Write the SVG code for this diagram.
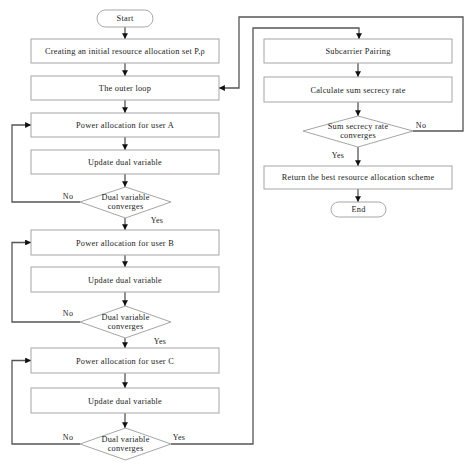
<svg xmlns="http://www.w3.org/2000/svg" width="474" height="474" viewBox="0 0 474 474">
<style>
.n{fill:#fff;stroke:#a6a6a6;stroke-width:1}
.t{font-family:"Liberation Serif","Times New Roman",serif;font-size:8.3px;letter-spacing:0.25px;fill:#222;text-anchor:middle}
.l{font-family:"Liberation Serif","Times New Roman",serif;font-size:8px;letter-spacing:0.25px;fill:#222;text-anchor:middle}
.c{fill:none;stroke:#555;stroke-width:1.3}
</style>
<defs>
<marker id="a" viewBox="0 0 10 10" refX="10" refY="5" markerWidth="4.5" markerHeight="4.5" orient="auto" markerUnits="strokeWidth">
<path d="M0,0 L10,5 L0,10 z" fill="#111"/>
</marker>
</defs>
<rect width="474" height="474" fill="#fff"/>
<g id="connectors">
<path class="c" marker-end="url(#a)" d="M125,27 V39"/>
<path class="c" marker-end="url(#a)" d="M125,63 V76"/>
<path class="c" marker-end="url(#a)" d="M125,100 V113"/>
<path class="c" marker-end="url(#a)" d="M125,137 V150"/>
<path class="c" marker-end="url(#a)" d="M125,174 V187"/>
<path class="c" marker-end="url(#a)" d="M125,218 V230"/>
<path class="c" marker-end="url(#a)" d="M125,255 V267"/>
<path class="c" marker-end="url(#a)" d="M125,292 V306"/>
<path class="c" marker-end="url(#a)" d="M125,338 V348"/>
<path class="c" marker-end="url(#a)" d="M125,373 V388"/>
<path class="c" marker-end="url(#a)" d="M125,413 V428"/>
<path class="c" marker-end="url(#a)" d="M80,202 H12 V125 H31"/>
<path class="c" marker-end="url(#a)" d="M80,322 H12 V242.5 H31"/>
<path class="c" marker-end="url(#a)" d="M80,444 H12 V360.5 H31"/>
<path class="c" marker-end="url(#a)" d="M171,444 H253 V28 H359 V39"/>
<path class="c" marker-end="url(#a)" d="M413,131 H463 V17 H239 V88 H219"/>
<path class="c" marker-end="url(#a)" d="M358,63 V77"/>
<path class="c" marker-end="url(#a)" d="M358,102 V116"/>
<path class="c" marker-end="url(#a)" d="M358,147 V166"/>
<path class="c" marker-end="url(#a)" d="M358,189 V202"/>
<text class="l" x="68" y="199">No</text>
<text class="l" x="157" y="223">Yes</text>
<text class="l" x="68" y="316">No</text>
<text class="l" x="160" y="344">Yes</text>
<text class="l" x="68" y="440">No</text>
<text class="l" x="179" y="440">Yes</text>
<text class="l" x="421" y="128">No</text>
<text class="l" x="338" y="158">Yes</text>
</g>
<g id="start"><rect class="n" x="97" y="10" width="56" height="17" rx="8.5"/><text class="t" x="125" y="21">Start</text></g>
<g id="init"><rect class="n" x="31" y="39" width="188" height="24"/><text class="t" x="125" y="54">Creating an initial resource allocation set P,ρ</text></g>
<g id="outer"><rect class="n" x="31" y="76" width="188" height="24"/><text class="t" x="125" y="91">The outer loop</text></g>
<g id="powA"><rect class="n" x="31" y="113" width="188" height="24"/><text class="t" x="125" y="128">Power allocation for user A</text></g>
<g id="updA"><rect class="n" x="31" y="150" width="188" height="24"/><text class="t" x="125" y="165">Update dual variable</text></g>
<g id="convA"><polygon class="n" points="80,202 125.5,187 171,202 125.5,218"/><text class="t" x="125.5" y="200">Dual variable</text><text class="t" x="125.5" y="209">converges</text></g>
<g id="powB"><rect class="n" x="31" y="230" width="188" height="25"/><text class="t" x="125" y="245.5">Power allocation for user B</text></g>
<g id="updB"><rect class="n" x="31" y="267" width="188" height="25"/><text class="t" x="125" y="282.5">Update dual variable</text></g>
<g id="convB"><polygon class="n" points="80,322 125.5,306 171,322 125.5,338"/><text class="t" x="125.5" y="320">Dual variable</text><text class="t" x="125.5" y="329">converges</text></g>
<g id="powC"><rect class="n" x="31" y="348" width="188" height="25"/><text class="t" x="125" y="363.5">Power allocation for user C</text></g>
<g id="updC"><rect class="n" x="31" y="388" width="188" height="25"/><text class="t" x="125" y="403.5">Update dual variable</text></g>
<g id="convC"><polygon class="n" points="80,444 125.5,428 171,444 125.5,460"/><text class="t" x="125.5" y="442">Dual variable</text><text class="t" x="125.5" y="451">converges</text></g>
<g id="pair"><rect class="n" x="264" y="39" width="188" height="24"/><text class="t" x="358" y="54">Subcarrier Pairing</text></g>
<g id="calc"><rect class="n" x="264" y="77" width="188" height="25"/><text class="t" x="358" y="92.5">Calculate sum secrecy rate</text></g>
<g id="convS"><polygon class="n" points="303,131 358,116 413,131 358,147"/><text class="t" x="358" y="129">Sum secrecy rate</text><text class="t" x="358" y="138">converges</text></g>
<g id="ret"><rect class="n" x="264" y="166" width="188" height="23"/><text class="t" x="358" y="180">Return the best resource allocation scheme</text></g>
<g id="end"><rect class="n" x="331" y="202" width="55" height="15" rx="7.5"/><text class="t" x="358.5" y="212">End</text></g>
</svg>
